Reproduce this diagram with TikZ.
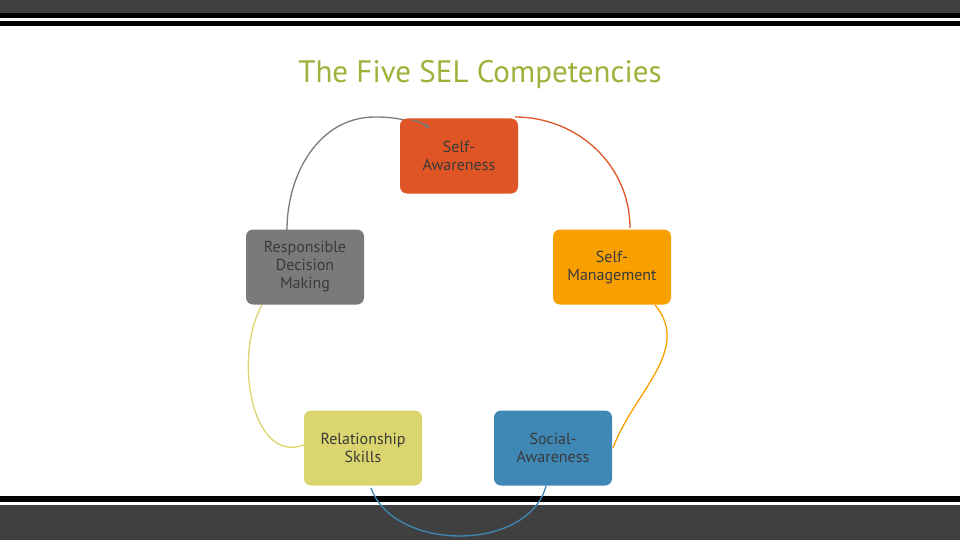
\documentclass[tikz,border=0pt]{standalone}
\usepackage{fontspec}
\setmainfont{PT Sans}
\usetikzlibrary{arrows.meta}
\definecolor{band}{HTML}{404040}
\definecolor{ttl}{HTML}{9BB33A}
\definecolor{txt}{HTML}{3A3A3A}
\definecolor{cSA}{HTML}{E05526}
\definecolor{cSM}{HTML}{F7A000}
\definecolor{cSo}{HTML}{3F87B5}
\definecolor{cRS}{HTML}{DAD56E}
\definecolor{cRD}{HTML}{7A7A7A}
\tikzset{box/.style={rounded corners=7pt,minimum width=118pt,minimum height=75pt,inner sep=2pt,align=center,text=txt,font=\fontsize{16}{18}\selectfont},
arc/.style={line width=1.3pt}}
\begin{document}
\begin{tikzpicture}[x=1pt,y=-1pt]
\useasboundingbox (0,0) rectangle (960,540);
\fill[band] (0,0) rectangle (960,13);
\fill[black] (0,13) rectangle (960,18);
\fill[black] (0,21) rectangle (960,26);
\fill[black] (0,496) rectangle (960,502);
\fill[band] (0,505) rectangle (960,540);
\node[text=ttl,font=\fontsize{31}{36}\selectfont] (title) at (480,75) {The Five SEL Competencies};
\coordinate (g1) at (287,230);
\coordinate (g2) at (375,117);
\coordinate (g3) at (430,128);
\draw[arc,cRD] (g1) to[out=90,in=180] (g2) to[out=0,in=160] (g3);
\draw[arc,cSA] (515,117) to[out=0,in=90] (630,228);
\draw[arc,cSM] (655,305) to[out=-50,in=70] (613,448);
\draw[arc,cSo] (546,486) to[out=-105,in=-70] (371,488);
\draw[arc,cRS] (304,445) to[out=-160,in=-120] (262,305);
\node[box,fill=cSA] (sa) at (459,156) {Self-\\Awareness};
\node[box,fill=cSM] (sm) at (612,267) {Self-\\Management};
\node[box,fill=cSo] (so) at (553,448) {Social-\\Awareness};
\node[box,fill=cRS] (rs) at (363,448) {Relationship\\Skills};
\node[box,fill=cRD] (rd) at (305,267) {Responsible\\Decision\\Making};
\draw[arc,cRD,-{Stealth[length=6pt]}] (g3) ++(-18,-8) to[out=-10,in=150] (g3);
\end{tikzpicture}
\end{document}
